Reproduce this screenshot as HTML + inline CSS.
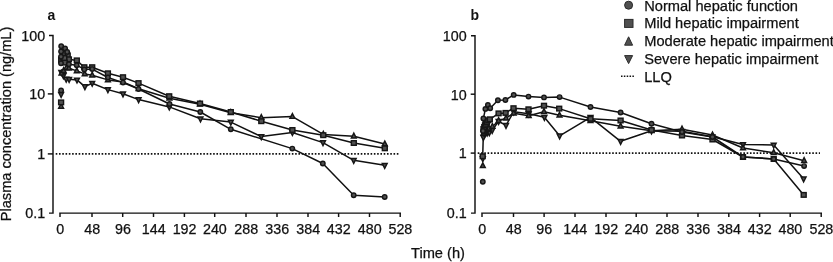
<!DOCTYPE html>
<html><head><meta charset="utf-8"><title>Plasma concentration</title>
<style>
html,body{margin:0;padding:0;background:#fff;}
svg{display:block;}
.t{font-family:"Liberation Sans",Arial,Helvetica,sans-serif;font-size:14.65px;fill:#111;stroke:#111;stroke-width:0.25px;}
.t2{font-size:14.3px;}
.b{font-family:"Liberation Sans",Arial,Helvetica,sans-serif;font-size:14px;font-weight:bold;fill:#111;}
.ax{fill:none;stroke:#111;stroke-width:1.45;}
.ln{fill:none;stroke:#111;stroke-width:1.5;stroke-linejoin:round;}
.mk{fill:#505050;stroke:#161616;stroke-width:1.45;stroke-linejoin:miter;}
.lg{fill:#505050;stroke:#2a2a2a;stroke-width:1;}
.dot{fill:none;stroke:#111;stroke-width:1.7;stroke-dasharray:1.6 1.68;}
.dot2{fill:none;stroke:#111;stroke-width:1.6;stroke-dasharray:1.5 1.35;}
</style></head>
<body>
<svg width="833" height="262" viewBox="0 0 833 262">
<rect width="833" height="262" fill="#fff"/>
<text class="b" x="47.6" y="19.5">a</text>
<text class="b" x="470.6" y="20.0">b</text>
<text class="t" style="font-size:14.58px" transform="translate(10.9,221.2) rotate(-90)">Plasma concentration (ng/mL)</text>
<text class="t" x="411" y="257.9">Time (h)</text>
<path class="ax" d="M49.0 35.4H53V213.1H49.0" />
<path class="ax" d="M47.8 93.9H53" />
<path class="ax" d="M47.8 153.9H53" />
<text class="t t2" x="45.1" y="40.699999999999996" text-anchor="end">100</text>
<text class="t t2" x="45.1" y="99.2" text-anchor="end">10</text>
<text class="t t2" x="45.1" y="159.20000000000002" text-anchor="end">1</text>
<text class="t t2" x="45.1" y="218.4" text-anchor="end">0.1</text>
<path class="ax" d="M59.2 213.1H401.0M60 213.1v3.8M92 213.1v3.8M122.7 213.1v3.8M153.5 213.1v3.8M184.4 213.1v3.8M214.7 213.1v3.8M246 213.1v3.8M277 213.1v3.8M308 213.1v3.8M338.6 213.1v3.8M369.5 213.1v3.8M400.2 213.1v3.8" />
<text class="t t2" x="60.2" y="233.5" text-anchor="middle">0</text>
<text class="t t2" x="92.2" y="233.5" text-anchor="middle">48</text>
<text class="t t2" x="122.9" y="233.5" text-anchor="middle">96</text>
<text class="t t2" x="153.7" y="233.5" text-anchor="middle">144</text>
<text class="t t2" x="184.6" y="233.5" text-anchor="middle">192</text>
<text class="t t2" x="214.89999999999998" y="233.5" text-anchor="middle">240</text>
<text class="t t2" x="246.2" y="233.5" text-anchor="middle">288</text>
<text class="t t2" x="277.2" y="233.5" text-anchor="middle">336</text>
<text class="t t2" x="308.2" y="233.5" text-anchor="middle">384</text>
<text class="t t2" x="338.8" y="233.5" text-anchor="middle">432</text>
<text class="t t2" x="369.7" y="233.5" text-anchor="middle">480</text>
<text class="t t2" x="400.4" y="233.5" text-anchor="middle">528</text>
<path class="dot" d="M55.7 153.9H398.5" />
<path class="ax" d="M471.0 35.7H475V213.1H471.0" />
<path class="ax" d="M470.7 94.2H475" />
<path class="ax" d="M470.7 153.1H475" />
<text class="t t2" x="466.7" y="41.0" text-anchor="end">100</text>
<text class="t t2" x="466.7" y="99.5" text-anchor="end">10</text>
<text class="t t2" x="466.7" y="158.4" text-anchor="end">1</text>
<text class="t t2" x="466.7" y="218.4" text-anchor="end">0.1</text>
<path class="ax" d="M481.2 213.1H822.0M482 213.1v3.8M513.5 213.1v3.8M544.1 213.1v3.8M575 213.1v3.8M606 213.1v3.8M636.2 213.1v3.8M667 213.1v3.8M698 213.1v3.8M728.8 213.1v3.8M759.6 213.1v3.8M790.2 213.1v3.8M821.2 213.1v3.8" />
<text class="t t2" x="482.2" y="233.5" text-anchor="middle">0</text>
<text class="t t2" x="513.7" y="233.5" text-anchor="middle">48</text>
<text class="t t2" x="544.3000000000001" y="233.5" text-anchor="middle">96</text>
<text class="t t2" x="575.2" y="233.5" text-anchor="middle">144</text>
<text class="t t2" x="606.2" y="233.5" text-anchor="middle">192</text>
<text class="t t2" x="636.4000000000001" y="233.5" text-anchor="middle">240</text>
<text class="t t2" x="667.2" y="233.5" text-anchor="middle">288</text>
<text class="t t2" x="698.2" y="233.5" text-anchor="middle">336</text>
<text class="t t2" x="729.0" y="233.5" text-anchor="middle">384</text>
<text class="t t2" x="759.8000000000001" y="233.5" text-anchor="middle">432</text>
<text class="t t2" x="790.4000000000001" y="233.5" text-anchor="middle">480</text>
<text class="t t2" x="821.4000000000001" y="233.5" text-anchor="middle">528</text>
<path class="dot" d="M477.7 153.2H820.0" />
<polyline class="ln" points="61.3,72.3 63.4,75.6 66.2,79.1 69.1,79.3 77.0,79.9 84.9,86.6 92.2,83.2 107.9,89.6 123,93.8 138.6,99.6 169.3,106.9 200.5,118.8 230.8,122.1 261.3,136.6 292.4,132.5 323,142.6 353.7,160.3 384.7,165.3" />
<polyline class="ln" points="61.5,73.3 63.6,70.7 66.5,67.7 68.9,68.2 76.8,70.9 84.7,73.9 92.2,75.2 107.9,79.9 123,81.9 138.6,88.7 169.4,98.2 200,104.2 230.8,112.7 261.3,117.7 292.4,116.6 323.3,134.4 353.8,136.2 384.8,144.1" />
<polyline class="ln" points="61.2,60.0 63.0,57.5 65.0,53.5 67.7,55.4 68.9,59.3 76.8,60.4 84.3,67.2 92.2,67.2 107.9,73.3 123,77.2 138.5,83.1 169.2,96.2 200,103.5 230.8,112 261.3,121.2 292.4,130 323.3,135.2 353.8,143 384.8,148.3" />
<polyline class="ln" points="61.0,63.3 61.0,56.7 61.1,51.4 61.2,46.2 65.1,48.4 67.2,52.0 68.9,64.3 76.7,65.2 84.3,69.4 92.2,69.1 107.9,77.5 123,82.6 138.5,89.0 169.5,104 200.3,112 230.8,129.3 292.3,148.6 322.8,163.5 353.7,195.3 384.7,197" />
<g class="mk">
<path d="M58.86 70.52L63.74 70.52L61.30 75.30Z" />
<path d="M60.96 73.82L65.84 73.82L63.40 78.60Z" />
<path d="M63.76 77.32L68.64 77.32L66.20 82.10Z" />
<path d="M66.66 77.52L71.54 77.52L69.10 82.30Z" />
<path d="M74.56 78.12L79.44 78.12L77.00 82.90Z" />
<path d="M82.46 84.82L87.34 84.82L84.90 89.60Z" />
<path d="M89.76 81.42L94.64 81.42L92.20 86.20Z" />
<path d="M105.46 87.82L110.34 87.82L107.90 92.60Z" />
<path d="M120.56 92.02L125.44 92.02L123.00 96.80Z" />
<path d="M136.16 97.82L141.04 97.82L138.60 102.60Z" />
<path d="M166.86 105.12L171.74 105.12L169.30 109.90Z" />
<path d="M198.06 117.02L202.94 117.02L200.50 121.80Z" />
<path d="M228.36 120.32L233.24 120.32L230.80 125.10Z" />
<path d="M258.86 134.82L263.74 134.82L261.30 139.60Z" />
<path d="M289.96 130.72L294.84 130.72L292.40 135.50Z" />
<path d="M320.56 140.82L325.44 140.82L323.00 145.60Z" />
<path d="M351.26 158.52L356.14 158.52L353.70 163.30Z" />
<path d="M382.26 163.52L387.14 163.52L384.70 168.30Z" />
<path d="M58.66 92.52L63.54 92.52L61.10 97.30Z" />
</g>
<g class="mk">
<path d="M59.06 75.08L63.94 75.08L61.50 70.30Z" />
<path d="M61.16 72.48L66.04 72.48L63.60 67.70Z" />
<path d="M64.06 69.48L68.94 69.48L66.50 64.70Z" />
<path d="M66.46 69.98L71.34 69.98L68.90 65.20Z" />
<path d="M74.36 72.68L79.24 72.68L76.80 67.90Z" />
<path d="M82.26 75.68L87.14 75.68L84.70 70.90Z" />
<path d="M89.76 76.98L94.64 76.98L92.20 72.20Z" />
<path d="M105.46 81.68L110.34 81.68L107.90 76.90Z" />
<path d="M120.56 83.68L125.44 83.68L123.00 78.90Z" />
<path d="M136.16 90.48L141.04 90.48L138.60 85.70Z" />
<path d="M166.96 99.98L171.84 99.98L169.40 95.20Z" />
<path d="M197.56 105.98L202.44 105.98L200.00 101.20Z" />
<path d="M228.36 114.48L233.24 114.48L230.80 109.70Z" />
<path d="M258.86 119.48L263.74 119.48L261.30 114.70Z" />
<path d="M289.96 118.38L294.84 118.38L292.40 113.60Z" />
<path d="M320.86 136.18L325.74 136.18L323.30 131.40Z" />
<path d="M351.36 137.98L356.24 137.98L353.80 133.20Z" />
<path d="M382.36 145.88L387.24 145.88L384.80 141.10Z" />
<path d="M58.66 108.28L63.54 108.28L61.10 103.50Z" />
</g>
<g class="mk">
<rect x="58.76" y="57.71" width="4.88" height="4.57" />
<rect x="60.56" y="55.21" width="4.88" height="4.57" />
<rect x="62.56" y="51.21" width="4.88" height="4.57" />
<rect x="65.26" y="53.11" width="4.88" height="4.57" />
<rect x="66.46" y="57.01" width="4.88" height="4.57" />
<rect x="74.36" y="58.11" width="4.88" height="4.57" />
<rect x="81.86" y="64.91" width="4.88" height="4.57" />
<rect x="89.76" y="64.91" width="4.88" height="4.57" />
<rect x="105.46" y="71.01" width="4.88" height="4.57" />
<rect x="120.56" y="74.91" width="4.88" height="4.57" />
<rect x="136.06" y="80.81" width="4.88" height="4.57" />
<rect x="166.76" y="93.91" width="4.88" height="4.57" />
<rect x="197.56" y="101.21" width="4.88" height="4.57" />
<rect x="228.36" y="109.71" width="4.88" height="4.57" />
<rect x="258.86" y="118.91" width="4.88" height="4.57" />
<rect x="289.96" y="127.71" width="4.88" height="4.57" />
<rect x="320.86" y="132.91" width="4.88" height="4.57" />
<rect x="351.36" y="140.71" width="4.88" height="4.57" />
<rect x="382.36" y="146.01" width="4.88" height="4.57" />
<rect x="58.66" y="100.11" width="4.88" height="4.57" />
<rect x="62.26" y="60.31" width="4.88" height="4.57" />
<rect x="61.86" y="55.71" width="4.88" height="4.57" />
</g>
<g class="mk">
<circle cx="61.0" cy="63.3" r="2.22" />
<circle cx="61.0" cy="56.7" r="2.22" />
<circle cx="61.1" cy="51.4" r="2.22" />
<circle cx="61.2" cy="46.2" r="2.22" />
<circle cx="65.1" cy="48.4" r="2.22" />
<circle cx="67.2" cy="52.0" r="2.22" />
<circle cx="68.9" cy="64.3" r="2.22" />
<circle cx="76.7" cy="65.2" r="2.22" />
<circle cx="84.3" cy="69.4" r="2.22" />
<circle cx="92.2" cy="69.1" r="2.22" />
<circle cx="107.9" cy="77.5" r="2.22" />
<circle cx="123" cy="82.6" r="2.22" />
<circle cx="138.5" cy="89.0" r="2.22" />
<circle cx="169.5" cy="104" r="2.22" />
<circle cx="200.3" cy="112" r="2.22" />
<circle cx="230.8" cy="129.3" r="2.22" />
<circle cx="292.3" cy="148.6" r="2.22" />
<circle cx="322.8" cy="163.5" r="2.22" />
<circle cx="353.7" cy="195.3" r="2.22" />
<circle cx="384.7" cy="197" r="2.22" />
<circle cx="61.1" cy="90.4" r="2.22" />
</g>
<polyline class="ln" points="483.4,137.3 484.3,133.8 485.6,133.1 487.2,132.9 489.3,132.7 492.2,130.3 498.6,121.3 506.0,125.3 513.7,111.8 528.7,113.8 544.4,117.3 559.6,135.8 590.5,117.3 620.6,141.3 651.5,130.8 682,131.3 712.5,136.8 743,144.6 773.7,145.0 803.6,178.8" />
<polyline class="ln" points="483.6,133.2 484.5,131.7 485.6,130.2 487.0,129.2 489.0,128.2 492.4,126.5 498.6,120.7 506,118.2 513.7,113.2 528.7,115.7 544,111.7 559.5,115.3 590.5,120.7 620.6,126.2 651.5,130.7 682,129.2 712.5,135.0 743,148.0 773.7,152.7 804.1,160.7" />
<polyline class="ln" points="482.7,156.3 483.5,129 484.3,127 485.0,125.3 485.8,123.8 486.9,122.0 488.3,120.3 489.8,119.3 498.6,113.4 505.6,112.9 513.5,108.2 528.5,109.3 544,105.7 559.2,108.6 590.5,118.8 620.6,120.5 651.5,130 682,135.5 712.5,139.5 743,157 773.7,159 803.7,194.9" />
<polyline class="ln" points="483.0,130.9 483.4,118.4 485.4,108.9 487.9,105 490.2,108.3 497.9,100.2 505.4,100.0 513.7,94.9 528.5,96.6 544,97.4 559.6,97.1 590.5,107 620.6,112.5 651.5,123.8 682,132 712.5,137 743,157 773.7,159 804.1,166.1" />
<g class="mk">
<path d="M480.96 135.52L485.84 135.52L483.40 140.30Z" />
<path d="M481.86 132.02L486.74 132.02L484.30 136.80Z" />
<path d="M483.16 131.32L488.04 131.32L485.60 136.10Z" />
<path d="M484.76 131.12L489.64 131.12L487.20 135.90Z" />
<path d="M486.86 130.92L491.74 130.92L489.30 135.70Z" />
<path d="M489.76 128.52L494.64 128.52L492.20 133.30Z" />
<path d="M496.16 119.52L501.04 119.52L498.60 124.30Z" />
<path d="M503.56 123.52L508.44 123.52L506.00 128.30Z" />
<path d="M511.26 110.02L516.14 110.02L513.70 114.80Z" />
<path d="M526.26 112.02L531.14 112.02L528.70 116.80Z" />
<path d="M541.96 115.52L546.84 115.52L544.40 120.30Z" />
<path d="M557.16 134.02L562.04 134.02L559.60 138.80Z" />
<path d="M588.06 115.52L592.94 115.52L590.50 120.30Z" />
<path d="M618.16 139.52L623.04 139.52L620.60 144.30Z" />
<path d="M649.06 129.02L653.94 129.02L651.50 133.80Z" />
<path d="M679.56 129.52L684.44 129.52L682.00 134.30Z" />
<path d="M710.06 135.02L714.94 135.02L712.50 139.80Z" />
<path d="M740.56 142.82L745.44 142.82L743.00 147.60Z" />
<path d="M771.26 143.22L776.14 143.22L773.70 148.00Z" />
<path d="M801.16 177.02L806.04 177.02L803.60 181.80Z" />
<path d="M480.36 156.82L485.24 156.82L482.80 161.60Z" />
</g>
<g class="mk">
<path d="M481.16 134.98L486.04 134.98L483.60 130.20Z" />
<path d="M482.06 133.48L486.94 133.48L484.50 128.70Z" />
<path d="M483.16 131.98L488.04 131.98L485.60 127.20Z" />
<path d="M484.56 130.98L489.44 130.98L487.00 126.20Z" />
<path d="M486.56 129.98L491.44 129.98L489.00 125.20Z" />
<path d="M489.96 128.28L494.84 128.28L492.40 123.50Z" />
<path d="M496.16 122.48L501.04 122.48L498.60 117.70Z" />
<path d="M503.56 119.98L508.44 119.98L506.00 115.20Z" />
<path d="M511.26 114.98L516.14 114.98L513.70 110.20Z" />
<path d="M526.26 117.48L531.14 117.48L528.70 112.70Z" />
<path d="M541.56 113.48L546.44 113.48L544.00 108.70Z" />
<path d="M557.06 117.08L561.94 117.08L559.50 112.30Z" />
<path d="M588.06 122.48L592.94 122.48L590.50 117.70Z" />
<path d="M618.16 127.98L623.04 127.98L620.60 123.20Z" />
<path d="M649.06 132.48L653.94 132.48L651.50 127.70Z" />
<path d="M679.56 130.98L684.44 130.98L682.00 126.20Z" />
<path d="M710.06 136.78L714.94 136.78L712.50 132.00Z" />
<path d="M740.56 149.78L745.44 149.78L743.00 145.00Z" />
<path d="M771.26 154.48L776.14 154.48L773.70 149.70Z" />
<path d="M801.66 162.48L806.54 162.48L804.10 157.70Z" />
<path d="M480.36 167.58L485.24 167.58L482.80 162.80Z" />
</g>
<g class="mk">
<rect x="480.26" y="154.01" width="4.88" height="4.57" />
<rect x="481.06" y="126.71" width="4.88" height="4.57" />
<rect x="481.86" y="124.71" width="4.88" height="4.57" />
<rect x="482.56" y="123.01" width="4.88" height="4.57" />
<rect x="483.36" y="121.51" width="4.88" height="4.57" />
<rect x="484.46" y="119.71" width="4.88" height="4.57" />
<rect x="485.86" y="118.01" width="4.88" height="4.57" />
<rect x="487.36" y="117.01" width="4.88" height="4.57" />
<rect x="496.16" y="111.11" width="4.88" height="4.57" />
<rect x="503.16" y="110.61" width="4.88" height="4.57" />
<rect x="511.06" y="105.91" width="4.88" height="4.57" />
<rect x="526.06" y="107.01" width="4.88" height="4.57" />
<rect x="541.56" y="103.41" width="4.88" height="4.57" />
<rect x="556.76" y="106.31" width="4.88" height="4.57" />
<rect x="588.06" y="116.51" width="4.88" height="4.57" />
<rect x="618.16" y="118.21" width="4.88" height="4.57" />
<rect x="649.06" y="127.71" width="4.88" height="4.57" />
<rect x="679.56" y="133.21" width="4.88" height="4.57" />
<rect x="710.06" y="137.21" width="4.88" height="4.57" />
<rect x="740.56" y="154.71" width="4.88" height="4.57" />
<rect x="771.26" y="156.71" width="4.88" height="4.57" />
<rect x="801.26" y="192.61" width="4.88" height="4.57" />
</g>
<g class="mk">
<circle cx="483.0" cy="130.9" r="2.22" />
<circle cx="483.4" cy="118.4" r="2.22" />
<circle cx="485.4" cy="108.9" r="2.22" />
<circle cx="487.9" cy="105" r="2.22" />
<circle cx="490.2" cy="108.3" r="2.22" />
<circle cx="497.9" cy="100.2" r="2.22" />
<circle cx="505.4" cy="100.0" r="2.22" />
<circle cx="513.7" cy="94.9" r="2.22" />
<circle cx="528.5" cy="96.6" r="2.22" />
<circle cx="544" cy="97.4" r="2.22" />
<circle cx="559.6" cy="97.1" r="2.22" />
<circle cx="590.5" cy="107" r="2.22" />
<circle cx="620.6" cy="112.5" r="2.22" />
<circle cx="651.5" cy="123.8" r="2.22" />
<circle cx="682" cy="132" r="2.22" />
<circle cx="712.5" cy="137" r="2.22" />
<circle cx="743" cy="157" r="2.22" />
<circle cx="773.7" cy="159" r="2.22" />
<circle cx="804.1" cy="166.1" r="2.22" />
<circle cx="482.8" cy="181.7" r="2.22" />
</g>
<text class="t" x="644.2" y="10.7">Normal hepatic function</text>
<text class="t" x="644.2" y="28.3">Mild hepatic impairment</text>
<text class="t" x="644.2" y="46.4">Moderate hepatic impairment</text>
<text class="t" x="644.2" y="64.0">Severe hepatic impairment</text>
<text class="t" x="644.2" y="81.5">LLQ</text>
<g class="lg">
<circle cx="628.6" cy="5.2" r="4.0" />
<rect x="624.6" y="19.4" width="8.4" height="8.0" />
<path d="M624.6 45.2L632.6 45.2L628.6 36.8Z" />
<path d="M624.6 55.6L632.6 55.6L628.6 63.6Z" />
</g>
<path class="dot2" d="M621 76.2H635.2" />
</svg>
</body></html>
